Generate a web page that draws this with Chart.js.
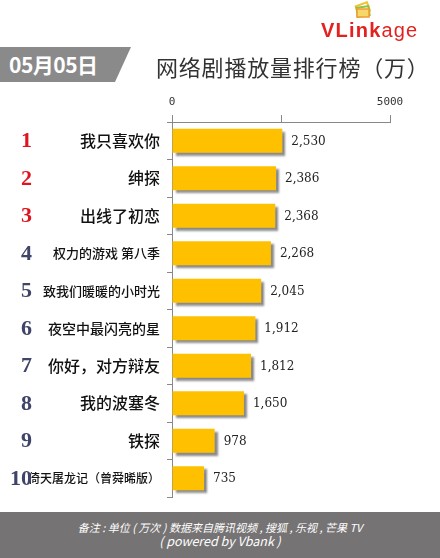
<!DOCTYPE html>
<html><head><meta charset="utf-8">
<script src="https://cdn.jsdelivr.net/npm/chart.js@4/dist/chart.umd.min.js"></script>
<style>
html,body{margin:0;padding:0;background:#fff;width:440px;height:558px;overflow:hidden;font-family:"Noto Sans CJK SC",sans-serif;}
#wrap{position:absolute;left:0;top:0;width:440px;height:558px;}
#datebox{position:absolute;left:0;top:47px;width:131px;height:35px;background:#8a8a8a;clip-path:polygon(0 0,131px 0,115px 35px,0 35px);}
#datebox span{position:absolute;left:9px;top:3px;color:#fff;font-size:21px;font-weight:700;line-height:28px;letter-spacing:-0.5px;}
#title{position:absolute;left:156px;top:50px;font-size:22px;color:#333;line-height:32px;letter-spacing:0.8px;}
#logo{position:absolute;left:321px;top:19px;font-family:"Liberation Sans",Arial,sans-serif;font-size:20px;color:#e3211e;line-height:22px;letter-spacing:1.2px;}
#logo b{font-weight:900;}
#icon{position:absolute;left:352px;top:1px;width:22px;height:18px;}
#footer{position:absolute;left:0;top:512px;width:440px;height:46px;background:#767374;color:#fff;text-align:center;font-style:italic;font-size:11px;line-height:13px;padding-top:9px;box-sizing:border-box;}
#footer .l2{font-size:12.5px;}
</style></head>
<body>
<div id="wrap"><canvas id="c" width="440" height="558"></canvas></div>
<svg id="icon" viewBox="0 0 22 18">
<rect x="5" y="3" width="12" height="9" fill="none" stroke="#f2c230" stroke-width="2" transform="rotate(-20 11 8)"/>
<rect x="5" y="6" width="12" height="9" fill="none" stroke="#8bc34a" stroke-width="2" transform="rotate(-8 11 10)"/>
<rect x="5" y="8" width="12" height="8" fill="#f6d76a" stroke="#f29b30" stroke-width="1.5"/>
</svg>
<div id="logo"><b>VLink</b>age</div>
<div id="datebox"><span>05月05日</span></div>
<div id="title">网络剧播放量排行榜（万）</div>
<div id="footer">备注 : 单位 ( 万次 ) 数据来自腾讯视频 , 搜狐 , 乐视 , 芒果 TV<br><span class="l2">( powered by Vbank )</span></div>
<script>
const ranks = ["1","2","3","4","5","6","7","8","9","10"];
const categories = ["我只喜欢你","绅探","出线了初恋","权力的游戏 第八季","致我们暖暖的小时光","夜空中最闪亮的星","你好，对方辩友","我的波塞冬","铁探","倚天屠龙记（曾舜晞版）"];
const values = [2530,2386,2368,2268,2045,1912,1812,1650,978,735];
const nameSizes = [16,16,16,13,13,14,16,16,16,12];
const xTickLabels = {0:"0",5000:"5000"};

const shadowPlugin = {
  id:'shadow',
  beforeDatasetsDraw(chart){const c=chart.ctx;c.save();c.shadowColor='rgba(60,60,60,0.6)';c.shadowOffsetX=3;c.shadowOffsetY=3;c.shadowBlur=2;},
  afterDatasetsDraw(chart){chart.ctx.restore();}
};
const labelPlugin = {
  id:'labels',
  afterDraw(chart){
    const c=chart.ctx, meta=chart.getDatasetMeta(0), ys=chart.scales.y;
    c.save();
    c.textBaseline='middle';
    meta.data.forEach((bar,i)=>{
      c.font='12px "DejaVu Serif", serif';
      c.fillStyle='#222';
      c.textAlign='left';
      c.fillText(values[i].toLocaleString('en-US'), bar.x+9, bar.y+1);
      const y=ys.getPixelForValue(i);
      c.font='bold 22px "Liberation Serif", "Times New Roman", serif';
      c.fillStyle=i<3?'#e0141e':'#3f4468';
      c.textAlign='right';
      c.fillText(ranks[i], 32, y+1);
    });
    c.restore();
  }
};

new Chart(document.getElementById('c'),{
  type:'bar',
  data:{labels:categories,datasets:[{data:values,backgroundColor:'#FFC000',borderWidth:0,barPercentage:0.64,categoryPercentage:1}]},
  options:{
    indexAxis:'y',responsive:false,animation:false,
    layout:{padding:{left:0,right:50,top:0,bottom:61}},
    plugins:{legend:{display:false},tooltip:{enabled:false}},
    scales:{
      x:{position:'top',min:0,max:5000,
        afterFit(s){s.height=122;},
        ticks:{stepSize:2500,padding:6,maxRotation:0,color:'#333',font:{family:'"DejaVu Sans Mono", monospace',size:11},callback:v=>xTickLabels[v]!==undefined?xTickLabels[v]:''},
        grid:{drawOnChartArea:false,tickLength:7,color:'#888'},
        border:{color:'#888'}},
      y:{
        afterFit(s){s.width=172;},
        ticks:{padding:7,color:'#111',font:ctx=>({family:'"Noto Sans CJK SC", sans-serif',size:nameSizes[ctx.index],weight:'500'})},
        grid:{offset:true,drawOnChartArea:false,tickLength:5,color:'#888'},
        border:{color:'#888'}}
    }
  },
  plugins:[shadowPlugin,labelPlugin]
});
</script>
</body></html>
